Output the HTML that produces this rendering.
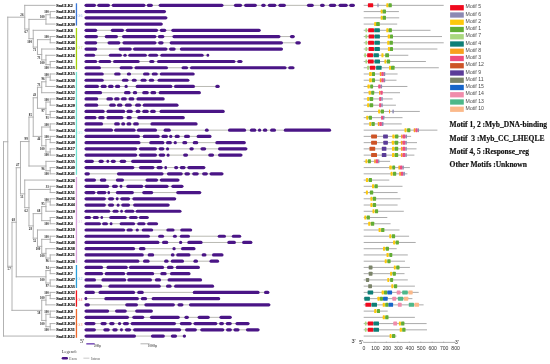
<!DOCTYPE html>
<html><head><meta charset="utf-8"><title>Gene structure and motifs</title>
<style>html,body{margin:0;padding:0;background:#fff;width:550px;height:364px;overflow:hidden}svg{display:block}.t{font-family:"Liberation Serif",serif;font-weight:bold}.s{font-family:"Liberation Sans",sans-serif}</style></head><body>
<svg width="550" height="364" viewBox="0 0 550 364">
<rect width="550" height="364" fill="#fff"/>
<g stroke="#a9a9a9" stroke-width="0.9" fill="none" stroke-linecap="square">
<line x1="3.51" y1="141.74" x2="3.51" y2="336.07"/>
<line x1="3.51" y1="141.74" x2="7.76" y2="141.74"/>
<line x1="7.76" y1="17.2" x2="7.76" y2="266.29"/>
<line x1="7.76" y1="17.2" x2="24.74" y2="17.2"/>
<line x1="24.74" y1="5.35" x2="24.74" y2="29.04"/>
<line x1="24.74" y1="5.35" x2="55" y2="5.35"/>
<line x1="24.74" y1="29.04" x2="28.98" y2="29.04"/>
<line x1="28.98" y1="19.39" x2="28.98" y2="38.7"/>
<line x1="28.98" y1="19.39" x2="45.96" y2="19.39"/>
<line x1="45.96" y1="14.71" x2="45.96" y2="24.07"/>
<line x1="45.96" y1="14.71" x2="50.21" y2="14.71"/>
<line x1="50.21" y1="11.59" x2="50.21" y2="17.83"/>
<line x1="50.21" y1="11.59" x2="55" y2="11.59"/>
<line x1="50.21" y1="17.83" x2="55" y2="17.83"/>
<line x1="45.96" y1="24.07" x2="55" y2="24.07"/>
<line x1="28.98" y1="38.7" x2="33.23" y2="38.7"/>
<line x1="33.23" y1="30.31" x2="33.23" y2="47.08"/>
<line x1="33.23" y1="30.31" x2="55" y2="30.31"/>
<line x1="33.23" y1="47.08" x2="37.47" y2="47.08"/>
<line x1="37.47" y1="39.67" x2="37.47" y2="54.49"/>
<line x1="37.47" y1="39.67" x2="50.21" y2="39.67"/>
<line x1="50.21" y1="36.55" x2="50.21" y2="42.79"/>
<line x1="50.21" y1="36.55" x2="55" y2="36.55"/>
<line x1="50.21" y1="42.79" x2="55" y2="42.79"/>
<line x1="37.47" y1="54.49" x2="41.72" y2="54.49"/>
<line x1="41.72" y1="49.03" x2="41.72" y2="59.95"/>
<line x1="41.72" y1="49.03" x2="55" y2="49.03"/>
<line x1="41.72" y1="59.95" x2="45.96" y2="59.95"/>
<line x1="45.96" y1="55.27" x2="45.96" y2="64.63"/>
<line x1="45.96" y1="55.27" x2="55" y2="55.27"/>
<line x1="45.96" y1="64.63" x2="50.21" y2="64.63"/>
<line x1="50.21" y1="61.51" x2="50.21" y2="67.75"/>
<line x1="50.21" y1="61.51" x2="55" y2="61.51"/>
<line x1="50.21" y1="67.75" x2="55" y2="67.75"/>
<line x1="7.76" y1="266.29" x2="12" y2="266.29"/>
<line x1="12" y1="222.25" x2="12" y2="310.33"/>
<line x1="12" y1="222.25" x2="16.25" y2="222.25"/>
<line x1="16.25" y1="167.71" x2="16.25" y2="276.79"/>
<line x1="16.25" y1="167.71" x2="20.49" y2="167.71"/>
<line x1="20.49" y1="141.56" x2="20.49" y2="193.87"/>
<line x1="20.49" y1="141.56" x2="28.98" y2="141.56"/>
<line x1="28.98" y1="117.08" x2="28.98" y2="166.03"/>
<line x1="28.98" y1="117.08" x2="33.23" y2="117.08"/>
<line x1="33.23" y1="97.78" x2="33.23" y2="136.39"/>
<line x1="33.23" y1="97.78" x2="37.47" y2="97.78"/>
<line x1="37.47" y1="87.25" x2="37.47" y2="108.31"/>
<line x1="37.47" y1="87.25" x2="41.72" y2="87.25"/>
<line x1="41.72" y1="81.79" x2="41.72" y2="92.71"/>
<line x1="41.72" y1="81.79" x2="45.96" y2="81.79"/>
<line x1="45.96" y1="77.11" x2="45.96" y2="86.47"/>
<line x1="45.96" y1="77.11" x2="50.21" y2="77.11"/>
<line x1="50.21" y1="73.99" x2="50.21" y2="80.23"/>
<line x1="50.21" y1="73.99" x2="55" y2="73.99"/>
<line x1="50.21" y1="80.23" x2="55" y2="80.23"/>
<line x1="45.96" y1="86.47" x2="55" y2="86.47"/>
<line x1="41.72" y1="92.71" x2="55" y2="92.71"/>
<line x1="37.47" y1="108.31" x2="45.96" y2="108.31"/>
<line x1="45.96" y1="102.07" x2="45.96" y2="114.55"/>
<line x1="45.96" y1="102.07" x2="50.21" y2="102.07"/>
<line x1="50.21" y1="98.95" x2="50.21" y2="105.19"/>
<line x1="50.21" y1="98.95" x2="55" y2="98.95"/>
<line x1="50.21" y1="105.19" x2="55" y2="105.19"/>
<line x1="45.96" y1="114.55" x2="50.21" y2="114.55"/>
<line x1="50.21" y1="111.43" x2="50.21" y2="117.67"/>
<line x1="50.21" y1="111.43" x2="55" y2="111.43"/>
<line x1="50.21" y1="117.67" x2="55" y2="117.67"/>
<line x1="33.23" y1="136.39" x2="41.72" y2="136.39"/>
<line x1="41.72" y1="127.03" x2="41.72" y2="145.75"/>
<line x1="41.72" y1="127.03" x2="50.21" y2="127.03"/>
<line x1="50.21" y1="123.91" x2="50.21" y2="130.15"/>
<line x1="50.21" y1="123.91" x2="55" y2="123.91"/>
<line x1="50.21" y1="130.15" x2="55" y2="130.15"/>
<line x1="41.72" y1="145.75" x2="45.96" y2="145.75"/>
<line x1="45.96" y1="139.51" x2="45.96" y2="151.99"/>
<line x1="45.96" y1="139.51" x2="50.21" y2="139.51"/>
<line x1="50.21" y1="136.39" x2="50.21" y2="142.63"/>
<line x1="50.21" y1="136.39" x2="55" y2="136.39"/>
<line x1="50.21" y1="142.63" x2="55" y2="142.63"/>
<line x1="45.96" y1="151.99" x2="50.21" y2="151.99"/>
<line x1="50.21" y1="148.87" x2="50.21" y2="155.11"/>
<line x1="50.21" y1="148.87" x2="55" y2="148.87"/>
<line x1="50.21" y1="155.11" x2="55" y2="155.11"/>
<line x1="28.98" y1="166.03" x2="45.96" y2="166.03"/>
<line x1="45.96" y1="161.35" x2="45.96" y2="170.71"/>
<line x1="45.96" y1="161.35" x2="55" y2="161.35"/>
<line x1="45.96" y1="170.71" x2="50.21" y2="170.71"/>
<line x1="50.21" y1="167.59" x2="50.21" y2="173.83"/>
<line x1="50.21" y1="167.59" x2="55" y2="167.59"/>
<line x1="50.21" y1="173.83" x2="55" y2="173.83"/>
<line x1="20.49" y1="193.87" x2="24.74" y2="193.87"/>
<line x1="24.74" y1="180.07" x2="24.74" y2="207.66"/>
<line x1="24.74" y1="180.07" x2="55" y2="180.07"/>
<line x1="24.74" y1="207.66" x2="28.98" y2="207.66"/>
<line x1="28.98" y1="189.43" x2="28.98" y2="225.9"/>
<line x1="28.98" y1="189.43" x2="50.21" y2="189.43"/>
<line x1="50.21" y1="186.31" x2="50.21" y2="192.55"/>
<line x1="50.21" y1="186.31" x2="55" y2="186.31"/>
<line x1="50.21" y1="192.55" x2="55" y2="192.55"/>
<line x1="28.98" y1="225.9" x2="33.23" y2="225.9"/>
<line x1="33.23" y1="213.61" x2="33.23" y2="238.18"/>
<line x1="33.23" y1="213.61" x2="41.72" y2="213.61"/>
<line x1="41.72" y1="206.59" x2="41.72" y2="220.63"/>
<line x1="41.72" y1="206.59" x2="45.96" y2="206.59"/>
<line x1="45.96" y1="201.91" x2="45.96" y2="211.27"/>
<line x1="45.96" y1="201.91" x2="50.21" y2="201.91"/>
<line x1="50.21" y1="198.79" x2="50.21" y2="205.03"/>
<line x1="50.21" y1="198.79" x2="55" y2="198.79"/>
<line x1="50.21" y1="205.03" x2="55" y2="205.03"/>
<line x1="45.96" y1="211.27" x2="55" y2="211.27"/>
<line x1="41.72" y1="220.63" x2="50.21" y2="220.63"/>
<line x1="50.21" y1="217.51" x2="50.21" y2="223.75"/>
<line x1="50.21" y1="217.51" x2="55" y2="217.51"/>
<line x1="50.21" y1="223.75" x2="55" y2="223.75"/>
<line x1="33.23" y1="238.18" x2="37.47" y2="238.18"/>
<line x1="37.47" y1="229.99" x2="37.47" y2="246.37"/>
<line x1="37.47" y1="229.99" x2="55" y2="229.99"/>
<line x1="37.47" y1="246.37" x2="41.72" y2="246.37"/>
<line x1="41.72" y1="239.35" x2="41.72" y2="253.39"/>
<line x1="41.72" y1="239.35" x2="50.21" y2="239.35"/>
<line x1="50.21" y1="236.23" x2="50.21" y2="242.47"/>
<line x1="50.21" y1="236.23" x2="55" y2="236.23"/>
<line x1="50.21" y1="242.47" x2="55" y2="242.47"/>
<line x1="41.72" y1="253.39" x2="45.96" y2="253.39"/>
<line x1="45.96" y1="248.71" x2="45.96" y2="258.07"/>
<line x1="45.96" y1="248.71" x2="55" y2="248.71"/>
<line x1="45.96" y1="258.07" x2="50.21" y2="258.07"/>
<line x1="50.21" y1="254.95" x2="50.21" y2="261.19"/>
<line x1="50.21" y1="254.95" x2="55" y2="254.95"/>
<line x1="50.21" y1="261.19" x2="55" y2="261.19"/>
<line x1="16.25" y1="276.79" x2="45.96" y2="276.79"/>
<line x1="45.96" y1="270.55" x2="45.96" y2="283.03"/>
<line x1="45.96" y1="270.55" x2="50.21" y2="270.55"/>
<line x1="50.21" y1="267.43" x2="50.21" y2="273.67"/>
<line x1="50.21" y1="267.43" x2="55" y2="267.43"/>
<line x1="50.21" y1="273.67" x2="55" y2="273.67"/>
<line x1="45.96" y1="283.03" x2="50.21" y2="283.03"/>
<line x1="50.21" y1="279.91" x2="50.21" y2="286.15"/>
<line x1="50.21" y1="279.91" x2="55" y2="279.91"/>
<line x1="50.21" y1="286.15" x2="55" y2="286.15"/>
<line x1="12" y1="310.33" x2="41.72" y2="310.33"/>
<line x1="41.72" y1="300.19" x2="41.72" y2="320.47"/>
<line x1="41.72" y1="300.19" x2="45.96" y2="300.19"/>
<line x1="45.96" y1="295.51" x2="45.96" y2="304.87"/>
<line x1="45.96" y1="295.51" x2="50.21" y2="295.51"/>
<line x1="50.21" y1="292.39" x2="50.21" y2="298.63"/>
<line x1="50.21" y1="292.39" x2="55" y2="292.39"/>
<line x1="50.21" y1="298.63" x2="55" y2="298.63"/>
<line x1="45.96" y1="304.87" x2="55" y2="304.87"/>
<line x1="41.72" y1="320.47" x2="45.96" y2="320.47"/>
<line x1="45.96" y1="314.23" x2="45.96" y2="326.71"/>
<line x1="45.96" y1="314.23" x2="50.21" y2="314.23"/>
<line x1="50.21" y1="311.11" x2="50.21" y2="317.35"/>
<line x1="50.21" y1="311.11" x2="55" y2="311.11"/>
<line x1="50.21" y1="317.35" x2="55" y2="317.35"/>
<line x1="45.96" y1="326.71" x2="50.21" y2="326.71"/>
<line x1="50.21" y1="323.59" x2="50.21" y2="329.83"/>
<line x1="50.21" y1="323.59" x2="55" y2="323.59"/>
<line x1="50.21" y1="329.83" x2="55" y2="329.83"/>
<line x1="3.51" y1="336.07" x2="55" y2="336.07"/>
</g>
<g class="t" font-size="3.1" fill="#222" text-anchor="end">
<text x="23.44" y="15.85">26</text>
<text x="27.68" y="33.14">67</text>
<text x="44.66" y="18.04">100</text>
<text x="48.91" y="13.36">100</text>
<text x="31.93" y="42.8">100</text>
<text x="36.17" y="51.18">71</text>
<text x="48.91" y="38.32">100</text>
<text x="40.42" y="58.59">73</text>
<text x="44.66" y="64.05">100</text>
<text x="48.91" y="68.73">100</text>
<text x="10.7" y="270.39">57</text>
<text x="14.95" y="220.9">68</text>
<text x="19.19" y="166.36">47</text>
<text x="27.68" y="140.21">99</text>
<text x="31.93" y="115.73">85</text>
<text x="36.17" y="96.43">43</text>
<text x="40.42" y="85.9">73</text>
<text x="44.66" y="80.44">96</text>
<text x="48.91" y="75.76">100</text>
<text x="44.66" y="112.41">97</text>
<text x="48.91" y="100.72">100</text>
<text x="48.91" y="118.65">91</text>
<text x="40.42" y="140.49">46</text>
<text x="48.91" y="125.68">100</text>
<text x="44.66" y="149.85">100</text>
<text x="48.91" y="138.16">100</text>
<text x="48.91" y="156.09">100</text>
<text x="44.66" y="170.13">96</text>
<text x="48.91" y="174.81">100</text>
<text x="23.44" y="197.97">51</text>
<text x="27.68" y="211.76">62</text>
<text x="48.91" y="188.08">33</text>
<text x="31.93" y="230">28</text>
<text x="40.42" y="212.26">68</text>
<text x="44.66" y="205.24">95</text>
<text x="48.91" y="200.56">100</text>
<text x="48.91" y="224.73">100</text>
<text x="36.17" y="242.28">52</text>
<text x="40.42" y="250.47">100</text>
<text x="48.91" y="238">100</text>
<text x="44.66" y="257.49">100</text>
<text x="48.91" y="262.17">96</text>
<text x="44.66" y="280.89">100</text>
<text x="48.91" y="269.2">94</text>
<text x="48.91" y="287.13">97</text>
<text x="40.42" y="314.43">58</text>
<text x="44.66" y="298.84">100</text>
<text x="48.91" y="294.16">100</text>
<text x="44.66" y="324.57">100</text>
<text x="48.91" y="312.88">100</text>
<text x="48.91" y="330.81">100</text>
</g>
<g class="t" font-size="4.05" fill="#000" stroke="#000" stroke-width="0.12">
<text x="56.2" y="6.8">SmGLK2</text>
<text x="56.2" y="13.04">SmGLK18</text>
<text x="56.2" y="19.28">SmGLK24</text>
<text x="56.2" y="25.52">SmGLK39</text>
<text x="56.2" y="31.76">SmGLK8</text>
<text x="56.2" y="38">SmGLK25</text>
<text x="56.2" y="44.24">SmGLK46</text>
<text x="56.2" y="50.48">SmGLK50</text>
<text x="56.2" y="56.72">SmGLK16</text>
<text x="56.2" y="62.96">SmGLK1</text>
<text x="56.2" y="69.2">SmGLK13</text>
<text x="56.2" y="75.44">SmGLK15</text>
<text x="56.2" y="81.68">SmGLK30</text>
<text x="56.2" y="87.92">SmGLK45</text>
<text x="56.2" y="94.16">SmGLK52</text>
<text x="56.2" y="100.4">SmGLK22</text>
<text x="56.2" y="106.64">SmGLK29</text>
<text x="56.2" y="112.88">SmGLK42</text>
<text x="56.2" y="119.12">SmGLK43</text>
<text x="56.2" y="125.36">SmGLK23</text>
<text x="56.2" y="131.6">SmGLK54</text>
<text x="56.2" y="137.84">SmGLK14</text>
<text x="56.2" y="144.08">SmGLK49</text>
<text x="56.2" y="150.32">SmGLK17</text>
<text x="56.2" y="156.56">SmGLK37</text>
<text x="56.2" y="162.8">SmGLK35</text>
<text x="56.2" y="169.04">SmGLK40</text>
<text x="56.2" y="175.28">SmGLK41</text>
<text x="56.2" y="181.52">SmGLK26</text>
<text x="56.2" y="187.76">SmGLK6</text>
<text x="56.2" y="194">SmGLK51</text>
<text x="56.2" y="200.24">SmGLK36</text>
<text x="56.2" y="206.48">SmGLK44</text>
<text x="56.2" y="212.72">SmGLK19</text>
<text x="56.2" y="218.96">SmGLK5</text>
<text x="56.2" y="225.2">SmGLK4</text>
<text x="56.2" y="231.44">SmGLK10</text>
<text x="56.2" y="237.68">SmGLK11</text>
<text x="56.2" y="243.92">SmGLK48</text>
<text x="56.2" y="250.16">SmGLK38</text>
<text x="56.2" y="256.4">SmGLK21</text>
<text x="56.2" y="262.64">SmGLK28</text>
<text x="56.2" y="268.88">SmGLK3</text>
<text x="56.2" y="275.12">SmGLK7</text>
<text x="56.2" y="281.36">SmGLK47</text>
<text x="56.2" y="287.6">SmGLK53</text>
<text x="56.2" y="293.84">SmGLK32</text>
<text x="56.2" y="300.08">SmGLK33</text>
<text x="56.2" y="306.32">SmGLK34</text>
<text x="56.2" y="312.56">SmGLK9</text>
<text x="56.2" y="318.8">SmGLK27</text>
<text x="56.2" y="325.04">SmGLK20</text>
<text x="56.2" y="331.28">SmGLK31</text>
<text x="56.2" y="337.52">SmGLK12</text>
</g>
<rect x="75.8" y="3.3" width="1.3" height="22.3" fill="#3b78d8"/>
<text class="s" x="77.6" y="16.7" font-size="3.6" fill="#9db9ea">G6</text>
<rect x="75.8" y="28" width="1.3" height="41.6" fill="#a6d20a"/>
<text class="s" x="77.6" y="49.3" font-size="3.6" fill="#d6ea9a">G7</text>
<rect x="75.8" y="71.9" width="1.3" height="102.9" fill="#6ee3d3"/>
<text class="s" x="77.6" y="134" font-size="3.6" fill="#b6eee6">G5</text>
<rect x="75.8" y="177" width="1.3" height="85.8" fill="#d9a2dc"/>
<text class="s" x="77.6" y="222.7" font-size="3.6" fill="#ecd2ee">G1</text>
<rect x="75.8" y="265" width="1.3" height="23" fill="#2aa0dc"/>
<text class="s" x="77.6" y="279.6" font-size="3.6" fill="#9fd3f0">G2</text>
<rect x="75.8" y="290.4" width="1.3" height="16.3" fill="#f5141a"/>
<text class="s" x="77.6" y="301.1" font-size="3.6" fill="#f27c82">G4</text>
<rect x="75.8" y="309" width="1.3" height="28.8" fill="#f0682a"/>
<text class="s" x="77.6" y="325.7" font-size="3.6" fill="#f4a47a">G3</text>
<g stroke="#b5b5af" stroke-width="0.95">
<line x1="84.5" y1="5.35" x2="354.9" y2="5.35"/>
<line x1="84.5" y1="11.59" x2="166" y2="11.59"/>
<line x1="84.5" y1="17.83" x2="167.4" y2="17.83"/>
<line x1="84.5" y1="24.07" x2="162.8" y2="24.07"/>
<line x1="84.5" y1="30.31" x2="260.7" y2="30.31"/>
<line x1="84.5" y1="36.55" x2="294.8" y2="36.55"/>
<line x1="84.5" y1="42.79" x2="300.8" y2="42.79"/>
<line x1="84.5" y1="49.03" x2="283" y2="49.03"/>
<line x1="84.5" y1="55.27" x2="209.2" y2="55.27"/>
<line x1="84.5" y1="61.51" x2="242.5" y2="61.51"/>
<line x1="84.5" y1="67.75" x2="294.5" y2="67.75"/>
<line x1="84.5" y1="73.99" x2="194.7" y2="73.99"/>
<line x1="84.5" y1="80.23" x2="189.4" y2="80.23"/>
<line x1="84.5" y1="86.47" x2="219.7" y2="86.47"/>
<line x1="84.5" y1="92.71" x2="200.9" y2="92.71"/>
<line x1="84.5" y1="98.95" x2="164.7" y2="98.95"/>
<line x1="84.5" y1="105.19" x2="178.5" y2="105.19"/>
<line x1="84.5" y1="111.43" x2="224.7" y2="111.43"/>
<line x1="84.5" y1="117.67" x2="184.8" y2="117.67"/>
<line x1="84.5" y1="123.91" x2="197.6" y2="123.91"/>
<line x1="84.5" y1="130.15" x2="331.1" y2="130.15"/>
<line x1="84.5" y1="136.39" x2="211.5" y2="136.39"/>
<line x1="84.5" y1="142.63" x2="245.8" y2="142.63"/>
<line x1="84.5" y1="148.87" x2="247.4" y2="148.87"/>
<line x1="84.5" y1="155.11" x2="242.5" y2="155.11"/>
<line x1="84.5" y1="161.35" x2="162" y2="161.35"/>
<line x1="84.5" y1="167.59" x2="205.4" y2="167.59"/>
<line x1="84.5" y1="173.83" x2="223.5" y2="173.83"/>
<line x1="84.5" y1="180.07" x2="179.5" y2="180.07"/>
<line x1="84.5" y1="186.31" x2="183.5" y2="186.31"/>
<line x1="84.5" y1="192.55" x2="201.3" y2="192.55"/>
<line x1="84.5" y1="198.79" x2="176.2" y2="198.79"/>
<line x1="84.5" y1="205.03" x2="169.7" y2="205.03"/>
<line x1="84.5" y1="211.27" x2="181.5" y2="211.27"/>
<line x1="84.5" y1="217.51" x2="148.8" y2="217.51"/>
<line x1="84.5" y1="223.75" x2="158.1" y2="223.75"/>
<line x1="84.5" y1="229.99" x2="192.2" y2="229.99"/>
<line x1="84.5" y1="236.23" x2="241.2" y2="236.23"/>
<line x1="84.5" y1="242.47" x2="252.4" y2="242.47"/>
<line x1="84.5" y1="248.71" x2="195.5" y2="248.71"/>
<line x1="84.5" y1="254.95" x2="223.5" y2="254.95"/>
<line x1="84.5" y1="261.19" x2="219.1" y2="261.19"/>
<line x1="84.5" y1="267.43" x2="199.9" y2="267.43"/>
<line x1="84.5" y1="273.67" x2="190.5" y2="273.67"/>
<line x1="84.5" y1="279.91" x2="202.1" y2="279.91"/>
<line x1="84.5" y1="286.15" x2="214.1" y2="286.15"/>
<line x1="84.5" y1="292.39" x2="269.4" y2="292.39"/>
<line x1="84.5" y1="298.63" x2="220.2" y2="298.63"/>
<line x1="84.5" y1="304.87" x2="270.4" y2="304.87"/>
<line x1="84.5" y1="311.11" x2="152.9" y2="311.11"/>
<line x1="84.5" y1="317.35" x2="231.8" y2="317.35"/>
<line x1="84.5" y1="323.59" x2="249.6" y2="323.59"/>
<line x1="84.5" y1="329.83" x2="259.6" y2="329.83"/>
<line x1="84.5" y1="336.07" x2="186" y2="336.07"/>
</g>
<g fill="#4a1586">
<rect x="84.5" y="3.75" width="11.5" height="3.2" rx="1.6"/>
<rect x="97.2" y="3.75" width="12.8" height="3.2" rx="1.6"/>
<rect x="111.7" y="3.75" width="33.8" height="3.2" rx="1.6"/>
<rect x="146.8" y="3.75" width="6.1" height="3.2" rx="1.6"/>
<rect x="158.6" y="3.75" width="64.9" height="3.2" rx="1.6"/>
<rect x="233.9" y="3.75" width="8.2" height="3.2" rx="1.6"/>
<rect x="244.1" y="3.75" width="12.8" height="3.2" rx="1.6"/>
<rect x="261.2" y="3.75" width="4.5" height="3.2" rx="1.6"/>
<rect x="267.8" y="3.75" width="8.6" height="3.2" rx="1.6"/>
<rect x="278.4" y="3.75" width="7.5" height="3.2" rx="1.6"/>
<rect x="306.9" y="3.75" width="6.9" height="3.2" rx="1.6"/>
<rect x="320" y="3.75" width="4.7" height="3.2" rx="1.6"/>
<rect x="328.9" y="3.75" width="7.3" height="3.2" rx="1.6"/>
<rect x="338.5" y="3.75" width="9.3" height="3.2" rx="1.6"/>
<rect x="349.2" y="3.75" width="5.7" height="3.2" rx="1.6"/>
<rect x="84.5" y="9.99" width="81.5" height="3.2" rx="1.6"/>
<rect x="84.5" y="16.23" width="82.9" height="3.2" rx="1.6"/>
<rect x="84.5" y="22.47" width="78.3" height="3.2" rx="1.6"/>
<rect x="84.5" y="28.71" width="12.7" height="3.2" rx="1.6"/>
<rect x="110.8" y="28.71" width="13.2" height="3.2" rx="1.6"/>
<rect x="125.7" y="28.71" width="32.4" height="3.2" rx="1.6"/>
<rect x="159.8" y="28.71" width="6.5" height="3.2" rx="1.6"/>
<rect x="171.3" y="28.71" width="89.4" height="3.2" rx="1.6"/>
<rect x="84.5" y="34.95" width="13.5" height="3.2" rx="1.6"/>
<rect x="104.7" y="34.95" width="13.3" height="3.2" rx="1.6"/>
<rect x="122" y="34.95" width="34.5" height="3.2" rx="1.6"/>
<rect x="157.8" y="34.95" width="6.6" height="3.2" rx="1.6"/>
<rect x="172.4" y="34.95" width="108.1" height="3.2" rx="1.6"/>
<rect x="289.9" y="34.95" width="4.9" height="3.2" rx="1.6"/>
<rect x="84.5" y="41.19" width="12.7" height="3.2" rx="1.6"/>
<rect x="107.5" y="41.19" width="12.9" height="3.2" rx="1.6"/>
<rect x="122.4" y="41.19" width="34.1" height="3.2" rx="1.6"/>
<rect x="158.1" y="41.19" width="5.5" height="3.2" rx="1.6"/>
<rect x="169.6" y="41.19" width="113.4" height="3.2" rx="1.6"/>
<rect x="295.3" y="41.19" width="5.5" height="3.2" rx="1.6"/>
<rect x="84.5" y="47.43" width="12.7" height="3.2" rx="1.6"/>
<rect x="118.6" y="47.43" width="13.2" height="3.2" rx="1.6"/>
<rect x="133" y="47.43" width="34.5" height="3.2" rx="1.6"/>
<rect x="169" y="47.43" width="6.7" height="3.2" rx="1.6"/>
<rect x="179.8" y="47.43" width="103.2" height="3.2" rx="1.6"/>
<rect x="84.5" y="53.67" width="10.7" height="3.2" rx="1.6"/>
<rect x="108.8" y="53.67" width="13.1" height="3.2" rx="1.6"/>
<rect x="123.3" y="53.67" width="3.5" height="3.2" rx="1.6"/>
<rect x="128.2" y="53.67" width="18.7" height="3.2" rx="1.6"/>
<rect x="148.3" y="53.67" width="9.8" height="3.2" rx="1.6"/>
<rect x="160.3" y="53.67" width="43.4" height="3.2" rx="1.6"/>
<rect x="206.5" y="53.67" width="2.7" height="3.2" rx="1.35"/>
<rect x="84.5" y="59.91" width="12.7" height="3.2" rx="1.6"/>
<rect x="98.5" y="59.91" width="12.8" height="3.2" rx="1.6"/>
<rect x="113" y="59.91" width="26.7" height="3.2" rx="1.6"/>
<rect x="149.2" y="59.91" width="5.3" height="3.2" rx="1.6"/>
<rect x="157" y="59.91" width="78.5" height="3.2" rx="1.6"/>
<rect x="237.2" y="59.91" width="5.3" height="3.2" rx="1.6"/>
<rect x="84.5" y="66.15" width="16.5" height="3.2" rx="1.6"/>
<rect x="119.6" y="66.15" width="13.2" height="3.2" rx="1.6"/>
<rect x="134.4" y="66.15" width="33.6" height="3.2" rx="1.6"/>
<rect x="181.5" y="66.15" width="6.6" height="3.2" rx="1.6"/>
<rect x="190" y="66.15" width="96.6" height="3.2" rx="1.6"/>
<rect x="288.2" y="66.15" width="6.3" height="3.2" rx="1.6"/>
<rect x="84.5" y="72.39" width="19.3" height="3.2" rx="1.6"/>
<rect x="114.1" y="72.39" width="6.6" height="3.2" rx="1.6"/>
<rect x="126.8" y="72.39" width="4.3" height="3.2" rx="1.6"/>
<rect x="143" y="72.39" width="6.6" height="3.2" rx="1.6"/>
<rect x="151.7" y="72.39" width="6.1" height="3.2" rx="1.6"/>
<rect x="159.8" y="72.39" width="34.9" height="3.2" rx="1.6"/>
<rect x="84.5" y="78.63" width="19.3" height="3.2" rx="1.6"/>
<rect x="121.9" y="78.63" width="6.6" height="3.2" rx="1.6"/>
<rect x="131.8" y="78.63" width="4.9" height="3.2" rx="1.6"/>
<rect x="140.5" y="78.63" width="6.1" height="3.2" rx="1.6"/>
<rect x="148.8" y="78.63" width="5.4" height="3.2" rx="1.6"/>
<rect x="157.5" y="78.63" width="31.9" height="3.2" rx="1.6"/>
<rect x="84.5" y="84.87" width="14.5" height="3.2" rx="1.6"/>
<rect x="100.6" y="84.87" width="6.1" height="3.2" rx="1.6"/>
<rect x="108" y="84.87" width="5.6" height="3.2" rx="1.6"/>
<rect x="115" y="84.87" width="5.2" height="3.2" rx="1.6"/>
<rect x="124.5" y="84.87" width="3.3" height="3.2" rx="1.6"/>
<rect x="135.6" y="84.87" width="36.8" height="3.2" rx="1.6"/>
<rect x="174" y="84.87" width="21" height="3.2" rx="1.6"/>
<rect x="215.3" y="84.87" width="4.4" height="3.2" rx="1.6"/>
<rect x="84.5" y="91.11" width="17.6" height="3.2" rx="1.6"/>
<rect x="124" y="91.11" width="6.6" height="3.2" rx="1.6"/>
<rect x="132.8" y="91.11" width="4.4" height="3.2" rx="1.6"/>
<rect x="142.2" y="91.11" width="6.6" height="3.2" rx="1.6"/>
<rect x="150.4" y="91.11" width="5.8" height="3.2" rx="1.6"/>
<rect x="158.6" y="91.11" width="42.3" height="3.2" rx="1.6"/>
<rect x="84.5" y="97.35" width="13.7" height="3.2" rx="1.6"/>
<rect x="106.4" y="97.35" width="6.6" height="3.2" rx="1.6"/>
<rect x="114.1" y="97.35" width="5.5" height="3.2" rx="1.6"/>
<rect x="121" y="97.35" width="5.8" height="3.2" rx="1.6"/>
<rect x="128.5" y="97.35" width="5.9" height="3.2" rx="1.6"/>
<rect x="136.4" y="97.35" width="28.3" height="3.2" rx="1.6"/>
<rect x="84.5" y="103.59" width="13.7" height="3.2" rx="1.6"/>
<rect x="109.2" y="103.59" width="6.6" height="3.2" rx="1.6"/>
<rect x="117" y="103.59" width="5.4" height="3.2" rx="1.6"/>
<rect x="124.9" y="103.59" width="6.9" height="3.2" rx="1.6"/>
<rect x="135.1" y="103.59" width="5.9" height="3.2" rx="1.6"/>
<rect x="142.7" y="103.59" width="35.8" height="3.2" rx="1.6"/>
<rect x="84.5" y="109.83" width="20.2" height="3.2" rx="1.6"/>
<rect x="106.4" y="109.83" width="18.8" height="3.2" rx="1.6"/>
<rect x="126.5" y="109.83" width="6.3" height="3.2" rx="1.6"/>
<rect x="135.6" y="109.83" width="4.9" height="3.2" rx="1.6"/>
<rect x="142.2" y="109.83" width="6.6" height="3.2" rx="1.6"/>
<rect x="150.1" y="109.83" width="5.7" height="3.2" rx="1.6"/>
<rect x="159.5" y="109.83" width="65.2" height="3.2" rx="1.6"/>
<rect x="84.5" y="116.07" width="12" height="3.2" rx="1.6"/>
<rect x="98.2" y="116.07" width="6.5" height="3.2" rx="1.6"/>
<rect x="106.4" y="116.07" width="17.1" height="3.2" rx="1.6"/>
<rect x="126.5" y="116.07" width="5.3" height="3.2" rx="1.6"/>
<rect x="137.2" y="116.07" width="47.6" height="3.2" rx="1.6"/>
<rect x="84.5" y="122.31" width="18.6" height="3.2" rx="1.6"/>
<rect x="114.1" y="122.31" width="5.8" height="3.2" rx="1.6"/>
<rect x="121.2" y="122.31" width="4" height="3.2" rx="1.6"/>
<rect x="126.5" y="122.31" width="4.9" height="3.2" rx="1.6"/>
<rect x="133.1" y="122.31" width="5.8" height="3.2" rx="1.6"/>
<rect x="150.4" y="122.31" width="47.2" height="3.2" rx="1.6"/>
<rect x="84.5" y="128.55" width="28.5" height="3.2" rx="1.6"/>
<rect x="114.1" y="128.55" width="21.5" height="3.2" rx="1.6"/>
<rect x="136.9" y="128.55" width="20.1" height="3.2" rx="1.6"/>
<rect x="163.6" y="128.55" width="7.2" height="3.2" rx="1.6"/>
<rect x="204.9" y="128.55" width="3.8" height="3.2" rx="1.6"/>
<rect x="228" y="128.55" width="18.1" height="3.2" rx="1.6"/>
<rect x="249.9" y="128.55" width="6.4" height="3.2" rx="1.6"/>
<rect x="257.9" y="128.55" width="3.3" height="3.2" rx="1.6"/>
<rect x="262.9" y="128.55" width="4.4" height="3.2" rx="1.6"/>
<rect x="270.1" y="128.55" width="5.9" height="3.2" rx="1.6"/>
<rect x="283.8" y="128.55" width="47.3" height="3.2" rx="1.6"/>
<rect x="84.5" y="134.79" width="55.5" height="3.2" rx="1.6"/>
<rect x="142.7" y="134.79" width="17.1" height="3.2" rx="1.6"/>
<rect x="161.4" y="134.79" width="6.6" height="3.2" rx="1.6"/>
<rect x="169.1" y="134.79" width="3.3" height="3.2" rx="1.6"/>
<rect x="174.6" y="134.79" width="5.2" height="3.2" rx="1.6"/>
<rect x="184" y="134.79" width="6" height="3.2" rx="1.6"/>
<rect x="196.6" y="134.79" width="14.9" height="3.2" rx="1.6"/>
<rect x="84.5" y="141.03" width="56" height="3.2" rx="1.6"/>
<rect x="149.2" y="141.03" width="15.2" height="3.2" rx="1.6"/>
<rect x="166" y="141.03" width="5.9" height="3.2" rx="1.6"/>
<rect x="173.6" y="141.03" width="3.3" height="3.2" rx="1.6"/>
<rect x="182.3" y="141.03" width="5" height="3.2" rx="1.6"/>
<rect x="192.7" y="141.03" width="5.6" height="3.2" rx="1.6"/>
<rect x="215.3" y="141.03" width="30.5" height="3.2" rx="1.6"/>
<rect x="84.5" y="147.27" width="52.7" height="3.2" rx="1.6"/>
<rect x="138.9" y="147.27" width="18.1" height="3.2" rx="1.6"/>
<rect x="158.6" y="147.27" width="5.8" height="3.2" rx="1.6"/>
<rect x="166" y="147.27" width="3.1" height="3.2" rx="1.55"/>
<rect x="189.4" y="147.27" width="4.4" height="3.2" rx="1.6"/>
<rect x="200.4" y="147.27" width="5.8" height="3.2" rx="1.6"/>
<rect x="218" y="147.27" width="29.4" height="3.2" rx="1.6"/>
<rect x="84.5" y="153.51" width="52.7" height="3.2" rx="1.6"/>
<rect x="138.9" y="153.51" width="18.1" height="3.2" rx="1.6"/>
<rect x="158.6" y="153.51" width="6.6" height="3.2" rx="1.6"/>
<rect x="166.6" y="153.51" width="3" height="3.2" rx="1.5"/>
<rect x="183.1" y="153.51" width="5" height="3.2" rx="1.6"/>
<rect x="208.2" y="153.51" width="5.9" height="3.2" rx="1.6"/>
<rect x="218" y="153.51" width="24.5" height="3.2" rx="1.6"/>
<rect x="84.5" y="159.75" width="9.4" height="3.2" rx="1.6"/>
<rect x="98.5" y="159.75" width="5.3" height="3.2" rx="1.6"/>
<rect x="106.4" y="159.75" width="2.8" height="3.2" rx="1.4"/>
<rect x="110.8" y="159.75" width="5" height="3.2" rx="1.6"/>
<rect x="119.6" y="159.75" width="6.6" height="3.2" rx="1.6"/>
<rect x="131.1" y="159.75" width="30.9" height="3.2" rx="1.6"/>
<rect x="84.5" y="165.99" width="49.9" height="3.2" rx="1.6"/>
<rect x="138.9" y="165.99" width="15.6" height="3.2" rx="1.6"/>
<rect x="156.5" y="165.99" width="6.3" height="3.2" rx="1.6"/>
<rect x="164.4" y="165.99" width="2.6" height="3.2" rx="1.3"/>
<rect x="174.1" y="165.99" width="4.1" height="3.2" rx="1.6"/>
<rect x="179.8" y="165.99" width="5.8" height="3.2" rx="1.6"/>
<rect x="187.3" y="165.99" width="18.1" height="3.2" rx="1.6"/>
<rect x="84.5" y="172.23" width="5.4" height="3.2" rx="1.6"/>
<rect x="116.9" y="172.23" width="46.7" height="3.2" rx="1.6"/>
<rect x="166.9" y="172.23" width="15.9" height="3.2" rx="1.6"/>
<rect x="184.4" y="172.23" width="5.6" height="3.2" rx="1.6"/>
<rect x="192.2" y="172.23" width="6.6" height="3.2" rx="1.6"/>
<rect x="202.1" y="172.23" width="5.8" height="3.2" rx="1.6"/>
<rect x="209.5" y="172.23" width="14" height="3.2" rx="1.6"/>
<rect x="84.5" y="178.47" width="11.5" height="3.2" rx="1.6"/>
<rect x="99.8" y="178.47" width="6.6" height="3.2" rx="1.6"/>
<rect x="115.8" y="178.47" width="8.2" height="3.2" rx="1.6"/>
<rect x="145.5" y="178.47" width="12.6" height="3.2" rx="1.6"/>
<rect x="159.8" y="178.47" width="19.7" height="3.2" rx="1.6"/>
<rect x="84.5" y="184.71" width="24.7" height="3.2" rx="1.6"/>
<rect x="112" y="184.71" width="5.9" height="3.2" rx="1.6"/>
<rect x="119.6" y="184.71" width="2.8" height="3.2" rx="1.4"/>
<rect x="126.2" y="184.71" width="17.1" height="3.2" rx="1.6"/>
<rect x="144.6" y="184.71" width="24" height="3.2" rx="1.6"/>
<rect x="171.3" y="184.71" width="12.2" height="3.2" rx="1.6"/>
<rect x="84.5" y="190.95" width="11" height="3.2" rx="1.6"/>
<rect x="96.8" y="190.95" width="9.6" height="3.2" rx="1.6"/>
<rect x="107.5" y="190.95" width="2.5" height="3.2" rx="1.25"/>
<rect x="115.8" y="190.95" width="18.1" height="3.2" rx="1.6"/>
<rect x="142.2" y="190.95" width="11" height="3.2" rx="1.6"/>
<rect x="176.2" y="190.95" width="25.1" height="3.2" rx="1.6"/>
<rect x="84.5" y="197.19" width="21.4" height="3.2" rx="1.6"/>
<rect x="108" y="197.19" width="6.1" height="3.2" rx="1.6"/>
<rect x="115.8" y="197.19" width="2.8" height="3.2" rx="1.4"/>
<rect x="120.2" y="197.19" width="9.9" height="3.2" rx="1.6"/>
<rect x="132.3" y="197.19" width="43.9" height="3.2" rx="1.6"/>
<rect x="84.5" y="203.43" width="21.4" height="3.2" rx="1.6"/>
<rect x="108" y="203.43" width="6.1" height="3.2" rx="1.6"/>
<rect x="116.6" y="203.43" width="3" height="3.2" rx="1.5"/>
<rect x="121.2" y="203.43" width="8.9" height="3.2" rx="1.6"/>
<rect x="133.1" y="203.43" width="36.6" height="3.2" rx="1.6"/>
<rect x="84.5" y="209.67" width="25.8" height="3.2" rx="1.6"/>
<rect x="112.5" y="209.67" width="6.1" height="3.2" rx="1.6"/>
<rect x="120.2" y="209.67" width="2.7" height="3.2" rx="1.35"/>
<rect x="124.5" y="209.67" width="9.9" height="3.2" rx="1.6"/>
<rect x="135.6" y="209.67" width="45.9" height="3.2" rx="1.6"/>
<rect x="84.5" y="215.91" width="6.6" height="3.2" rx="1.6"/>
<rect x="92.7" y="215.91" width="6.1" height="3.2" rx="1.6"/>
<rect x="100.5" y="215.91" width="2.6" height="3.2" rx="1.3"/>
<rect x="109.2" y="215.91" width="17.6" height="3.2" rx="1.6"/>
<rect x="129" y="215.91" width="8.7" height="3.2" rx="1.6"/>
<rect x="138.9" y="215.91" width="9.9" height="3.2" rx="1.6"/>
<rect x="84.5" y="222.15" width="16.5" height="3.2" rx="1.6"/>
<rect x="102.1" y="222.15" width="5.9" height="3.2" rx="1.6"/>
<rect x="109.7" y="222.15" width="2.8" height="3.2" rx="1.4"/>
<rect x="119.6" y="222.15" width="15.5" height="3.2" rx="1.6"/>
<rect x="137.2" y="222.15" width="8.3" height="3.2" rx="1.6"/>
<rect x="147.1" y="222.15" width="11" height="3.2" rx="1.6"/>
<rect x="84.5" y="228.39" width="40.7" height="3.2" rx="1.6"/>
<rect x="126.5" y="228.39" width="6.3" height="3.2" rx="1.6"/>
<rect x="135.6" y="228.39" width="3.3" height="3.2" rx="1.6"/>
<rect x="141.7" y="228.39" width="11.5" height="3.2" rx="1.6"/>
<rect x="166.3" y="228.39" width="8.3" height="3.2" rx="1.6"/>
<rect x="180.2" y="228.39" width="12" height="3.2" rx="1.6"/>
<rect x="84.5" y="234.63" width="65.4" height="3.2" rx="1.6"/>
<rect x="158.1" y="234.63" width="6" height="3.2" rx="1.6"/>
<rect x="172.9" y="234.63" width="4" height="3.2" rx="1.6"/>
<rect x="179.8" y="234.63" width="10.2" height="3.2" rx="1.6"/>
<rect x="217.7" y="234.63" width="8.3" height="3.2" rx="1.6"/>
<rect x="231.8" y="234.63" width="9.4" height="3.2" rx="1.6"/>
<rect x="84.5" y="240.87" width="75" height="3.2" rx="1.6"/>
<rect x="162" y="240.87" width="6.3" height="3.2" rx="1.6"/>
<rect x="179" y="240.87" width="3.3" height="3.2" rx="1.6"/>
<rect x="187.3" y="240.87" width="15.3" height="3.2" rx="1.6"/>
<rect x="227.3" y="240.87" width="8.6" height="3.2" rx="1.6"/>
<rect x="242.1" y="240.87" width="10.3" height="3.2" rx="1.6"/>
<rect x="84.5" y="247.11" width="50.6" height="3.2" rx="1.6"/>
<rect x="138.9" y="247.11" width="6.6" height="3.2" rx="1.6"/>
<rect x="172.4" y="247.11" width="3.3" height="3.2" rx="1.6"/>
<rect x="181" y="247.11" width="14.5" height="3.2" rx="1.6"/>
<rect x="84.5" y="253.35" width="59.3" height="3.2" rx="1.6"/>
<rect x="147.6" y="253.35" width="6.6" height="3.2" rx="1.6"/>
<rect x="170.8" y="253.35" width="3.8" height="3.2" rx="1.6"/>
<rect x="176.2" y="253.35" width="14.3" height="3.2" rx="1.6"/>
<rect x="201.6" y="253.35" width="4.9" height="3.2" rx="1.6"/>
<rect x="212" y="253.35" width="11.5" height="3.2" rx="1.6"/>
<rect x="84.5" y="259.59" width="54.9" height="3.2" rx="1.6"/>
<rect x="143" y="259.59" width="6.6" height="3.2" rx="1.6"/>
<rect x="164.1" y="259.59" width="4.5" height="3.2" rx="1.6"/>
<rect x="170.8" y="259.59" width="13.2" height="3.2" rx="1.6"/>
<rect x="193.4" y="259.59" width="4.6" height="3.2" rx="1.6"/>
<rect x="209.5" y="259.59" width="9.6" height="3.2" rx="1.6"/>
<rect x="84.5" y="265.83" width="18.6" height="3.2" rx="1.6"/>
<rect x="106.4" y="265.83" width="21.4" height="3.2" rx="1.6"/>
<rect x="129" y="265.83" width="35.1" height="3.2" rx="1.6"/>
<rect x="166.9" y="265.83" width="6.7" height="3.2" rx="1.6"/>
<rect x="175.7" y="265.83" width="24.2" height="3.2" rx="1.6"/>
<rect x="84.5" y="272.07" width="18.6" height="3.2" rx="1.6"/>
<rect x="104.7" y="272.07" width="20.5" height="3.2" rx="1.6"/>
<rect x="126.5" y="272.07" width="27.7" height="3.2" rx="1.6"/>
<rect x="160.3" y="272.07" width="6.4" height="3.2" rx="1.6"/>
<rect x="170" y="272.07" width="20.5" height="3.2" rx="1.6"/>
<rect x="84.5" y="278.31" width="11.5" height="3.2" rx="1.6"/>
<rect x="101.4" y="278.31" width="24.8" height="3.2" rx="1.6"/>
<rect x="127.3" y="278.31" width="24.7" height="3.2" rx="1.6"/>
<rect x="154.9" y="278.31" width="6.2" height="3.2" rx="1.6"/>
<rect x="167.5" y="278.31" width="34.6" height="3.2" rx="1.6"/>
<rect x="84.5" y="284.55" width="17.6" height="3.2" rx="1.6"/>
<rect x="108.4" y="284.55" width="52.4" height="3.2" rx="1.6"/>
<rect x="166" y="284.55" width="5.6" height="3.2" rx="1.6"/>
<rect x="174.1" y="284.55" width="40" height="3.2" rx="1.6"/>
<rect x="84.5" y="290.79" width="10.4" height="3.2" rx="1.6"/>
<rect x="98.5" y="290.79" width="36.6" height="3.2" rx="1.6"/>
<rect x="137.2" y="290.79" width="6.6" height="3.2" rx="1.6"/>
<rect x="192.7" y="290.79" width="66.9" height="3.2" rx="1.6"/>
<rect x="264" y="290.79" width="5.4" height="3.2" rx="1.6"/>
<rect x="84.5" y="297.03" width="2.8" height="3.2" rx="1.4"/>
<rect x="104.3" y="297.03" width="34.6" height="3.2" rx="1.6"/>
<rect x="140.8" y="297.03" width="6.3" height="3.2" rx="1.6"/>
<rect x="151.6" y="297.03" width="68.6" height="3.2" rx="1.6"/>
<rect x="84.5" y="303.27" width="5.4" height="3.2" rx="1.6"/>
<rect x="125.2" y="303.27" width="12.8" height="3.2" rx="1.6"/>
<rect x="144.3" y="303.27" width="30.6" height="3.2" rx="1.6"/>
<rect x="177.4" y="303.27" width="6.1" height="3.2" rx="1.6"/>
<rect x="188.9" y="303.27" width="81.5" height="3.2" rx="1.6"/>
<rect x="84.5" y="309.51" width="24.7" height="3.2" rx="1.6"/>
<rect x="115" y="309.51" width="11.8" height="3.2" rx="1.6"/>
<rect x="135.1" y="309.51" width="17.8" height="3.2" rx="1.6"/>
<rect x="84.5" y="315.75" width="44.5" height="3.2" rx="1.6"/>
<rect x="132.3" y="315.75" width="12" height="3.2" rx="1.6"/>
<rect x="149.9" y="315.75" width="29.9" height="3.2" rx="1.6"/>
<rect x="184.4" y="315.75" width="4.5" height="3.2" rx="1.6"/>
<rect x="197.6" y="315.75" width="12.2" height="3.2" rx="1.6"/>
<rect x="219.4" y="315.75" width="12.4" height="3.2" rx="1.6"/>
<rect x="84.5" y="321.99" width="11" height="3.2" rx="1.6"/>
<rect x="100.5" y="321.99" width="6.2" height="3.2" rx="1.6"/>
<rect x="109.2" y="321.99" width="5.4" height="3.2" rx="1.6"/>
<rect x="117.9" y="321.99" width="3.3" height="3.2" rx="1.6"/>
<rect x="122.9" y="321.99" width="6.1" height="3.2" rx="1.6"/>
<rect x="130.6" y="321.99" width="45.4" height="3.2" rx="1.6"/>
<rect x="179.8" y="321.99" width="12" height="3.2" rx="1.6"/>
<rect x="193.4" y="321.99" width="24" height="3.2" rx="1.6"/>
<rect x="219.1" y="321.99" width="4.9" height="3.2" rx="1.6"/>
<rect x="225.7" y="321.99" width="6.1" height="3.2" rx="1.6"/>
<rect x="235.4" y="321.99" width="14.2" height="3.2" rx="1.6"/>
<rect x="84.5" y="328.23" width="11.4" height="3.2" rx="1.6"/>
<rect x="103.3" y="328.23" width="6.5" height="3.2" rx="1.6"/>
<rect x="112.3" y="328.23" width="5.4" height="3.2" rx="1.6"/>
<rect x="120" y="328.23" width="2.9" height="3.2" rx="1.45"/>
<rect x="124.9" y="328.23" width="6.2" height="3.2" rx="1.6"/>
<rect x="133.1" y="328.23" width="48.1" height="3.2" rx="1.6"/>
<rect x="185" y="328.23" width="11.9" height="3.2" rx="1.6"/>
<rect x="200.2" y="328.23" width="24.1" height="3.2" rx="1.6"/>
<rect x="226" y="328.23" width="5.9" height="3.2" rx="1.6"/>
<rect x="233.4" y="328.23" width="6.2" height="3.2" rx="1.6"/>
<rect x="245.9" y="328.23" width="13.7" height="3.2" rx="1.6"/>
<rect x="84.5" y="334.47" width="51.5" height="3.2" rx="1.6"/>
<rect x="150.9" y="334.47" width="14" height="3.2" rx="1.6"/>
<rect x="170.8" y="334.47" width="6.3" height="3.2" rx="1.6"/>
<rect x="182.7" y="334.47" width="3.3" height="3.2" rx="1.6"/>
</g>
<text x="79.9" y="342.7" font-size="6" fill="#444" stroke="#444" stroke-width="0.08" font-family="Liberation Serif, serif">5'</text>
<text class="s" x="351.4" y="342.5" font-size="5.5" fill="#222">3'</text>
<rect x="86.3" y="343.2" width="8.4" height="1.3" fill="#6535ad"/>
<text class="t" x="93.9" y="347.1" font-size="3.0" fill="#666" textLength="7.2" lengthAdjust="spacingAndGlyphs">200bp</text>
<rect x="140.5" y="343.3" width="9.1" height="1" fill="#b4b4b4"/>
<text class="t" x="148" y="347.2" font-size="3.0" fill="#666" textLength="9.2" lengthAdjust="spacingAndGlyphs">1000bp</text>
<text x="61.7" y="353.0" font-size="4.6" fill="#3a3a3a" font-family="Liberation Serif, serif">Legend:</text>
<rect x="61.7" y="356.9" width="6.3" height="2.6" rx="1.3" fill="#4a1586"/>
<text x="69.3" y="359.5" font-size="3.6" fill="#555" font-family="Liberation Serif, serif">Exon</text>
<rect x="83.4" y="357.7" width="6" height="0.9" fill="#c4c4c4"/>
<text x="91.2" y="359.5" font-size="3.6" fill="#555" font-family="Liberation Serif, serif">Intron</text>
<g stroke="#a6a6a6" stroke-width="0.95">
<line x1="363.7" y1="5.35" x2="443.7" y2="5.35"/>
<line x1="363.7" y1="11.59" x2="398.9" y2="11.59"/>
<line x1="363.7" y1="17.83" x2="399.2" y2="17.83"/>
<line x1="363.7" y1="24.07" x2="397.2" y2="24.07"/>
<line x1="363.7" y1="30.31" x2="430.5" y2="30.31"/>
<line x1="363.7" y1="36.55" x2="442" y2="36.55"/>
<line x1="363.7" y1="42.79" x2="443.7" y2="42.79"/>
<line x1="363.7" y1="49.03" x2="437.4" y2="49.03"/>
<line x1="363.7" y1="55.27" x2="408.3" y2="55.27"/>
<line x1="363.7" y1="61.51" x2="425.9" y2="61.51"/>
<line x1="363.7" y1="67.75" x2="438.8" y2="67.75"/>
<line x1="363.7" y1="73.99" x2="397.6" y2="73.99"/>
<line x1="363.7" y1="80.23" x2="396.5" y2="80.23"/>
<line x1="363.7" y1="86.47" x2="407.4" y2="86.47"/>
<line x1="363.7" y1="92.71" x2="400" y2="92.71"/>
<line x1="363.7" y1="98.95" x2="392.6" y2="98.95"/>
<line x1="363.7" y1="105.19" x2="395.9" y2="105.19"/>
<line x1="363.7" y1="111.43" x2="419.8" y2="111.43"/>
<line x1="363.7" y1="117.67" x2="402.5" y2="117.67"/>
<line x1="363.7" y1="123.91" x2="401.7" y2="123.91"/>
<line x1="363.7" y1="130.15" x2="437.4" y2="130.15"/>
<line x1="363.7" y1="136.39" x2="411.1" y2="136.39"/>
<line x1="363.7" y1="142.63" x2="417" y2="142.63"/>
<line x1="363.7" y1="148.87" x2="416.5" y2="148.87"/>
<line x1="363.7" y1="155.11" x2="414.4" y2="155.11"/>
<line x1="363.7" y1="161.35" x2="390.1" y2="161.35"/>
<line x1="363.7" y1="167.59" x2="409.9" y2="167.59"/>
<line x1="363.7" y1="173.83" x2="407.4" y2="173.83"/>
<line x1="363.7" y1="180.07" x2="389.3" y2="180.07"/>
<line x1="363.7" y1="186.31" x2="402.5" y2="186.31"/>
<line x1="363.7" y1="192.55" x2="397.6" y2="192.55"/>
<line x1="363.7" y1="198.79" x2="400.5" y2="198.79"/>
<line x1="363.7" y1="205.03" x2="397.6" y2="205.03"/>
<line x1="363.7" y1="211.27" x2="403.8" y2="211.27"/>
<line x1="363.7" y1="217.51" x2="387.3" y2="217.51"/>
<line x1="363.7" y1="223.75" x2="390.6" y2="223.75"/>
<line x1="363.7" y1="229.99" x2="399.5" y2="229.99"/>
<line x1="363.7" y1="236.23" x2="409.1" y2="236.23"/>
<line x1="363.7" y1="242.47" x2="415.7" y2="242.47"/>
<line x1="363.7" y1="248.71" x2="396.7" y2="248.71"/>
<line x1="363.7" y1="254.95" x2="407.8" y2="254.95"/>
<line x1="363.7" y1="261.19" x2="405" y2="261.19"/>
<line x1="363.7" y1="267.43" x2="409.9" y2="267.43"/>
<line x1="363.7" y1="273.67" x2="404.5" y2="273.67"/>
<line x1="363.7" y1="279.91" x2="407.8" y2="279.91"/>
<line x1="363.7" y1="286.15" x2="414.9" y2="286.15"/>
<line x1="363.7" y1="292.39" x2="418.7" y2="292.39"/>
<line x1="363.7" y1="298.63" x2="412.4" y2="298.63"/>
<line x1="363.7" y1="304.87" x2="423.6" y2="304.87"/>
<line x1="363.7" y1="311.11" x2="387.7" y2="311.11"/>
<line x1="363.7" y1="317.35" x2="414.9" y2="317.35"/>
<line x1="363.7" y1="323.59" x2="426.6" y2="323.59"/>
<line x1="363.7" y1="329.83" x2="427" y2="329.83"/>
<line x1="363.7" y1="336.07" x2="396.5" y2="336.07"/>
</g>
<rect x="367.9" y="3.35" width="5.3" height="4" rx="0.6" fill="#f00a1e"/>
<rect x="377.4" y="3.35" width="1.2" height="4" rx="0.6" fill="#8c89b3"/>
<rect x="386.3" y="3.35" width="2.2" height="4" rx="0.6" fill="#fdc80c"/>
<rect x="388.5" y="3.35" width="3.3" height="4" rx="0.6" fill="#62ad35"/>
<rect x="380.7" y="9.59" width="2" height="4" rx="0.6" fill="#fdc80c"/>
<rect x="382.7" y="9.59" width="3.3" height="4" rx="0.6" fill="#62ad35"/>
<rect x="380.7" y="15.83" width="2" height="4" rx="0.6" fill="#fdc80c"/>
<rect x="382.7" y="15.83" width="3.3" height="4" rx="0.6" fill="#62ad35"/>
<rect x="374.2" y="22.07" width="1.9" height="4" rx="0.6" fill="#fdc80c"/>
<rect x="376.1" y="22.07" width="3.7" height="4" rx="0.6" fill="#62ad35"/>
<rect x="365.4" y="28.31" width="1.8" height="4" rx="0.6" fill="#a9d77f"/>
<rect x="368.2" y="28.31" width="5.8" height="4" rx="0.6" fill="#f00a1e"/>
<rect x="374.2" y="28.31" width="5.7" height="4" rx="0.6" fill="#0e7f77"/>
<rect x="386.3" y="28.31" width="2.3" height="4" rx="0.6" fill="#fdc80c"/>
<rect x="388.6" y="28.31" width="3.3" height="4" rx="0.6" fill="#62ad35"/>
<rect x="365.4" y="34.55" width="1.8" height="4" rx="0.6" fill="#a9d77f"/>
<rect x="368.6" y="34.55" width="5.6" height="4" rx="0.6" fill="#f00a1e"/>
<rect x="374.5" y="34.55" width="5.4" height="4" rx="0.6" fill="#0e7f77"/>
<rect x="387.7" y="34.55" width="2.3" height="4" rx="0.6" fill="#fdc80c"/>
<rect x="390" y="34.55" width="3" height="4" rx="0.6" fill="#62ad35"/>
<rect x="365.4" y="40.79" width="1.8" height="4" rx="0.6" fill="#a9d77f"/>
<rect x="368.1" y="40.79" width="5.9" height="4" rx="0.6" fill="#f00a1e"/>
<rect x="374.4" y="40.79" width="5.5" height="4" rx="0.6" fill="#0e7f77"/>
<rect x="387.2" y="40.79" width="2.4" height="4" rx="0.6" fill="#fdc80c"/>
<rect x="389.6" y="40.79" width="3.3" height="4" rx="0.6" fill="#62ad35"/>
<rect x="365.4" y="47.03" width="1.8" height="4" rx="0.6" fill="#a9d77f"/>
<rect x="368.6" y="47.03" width="5.4" height="4" rx="0.6" fill="#f00a1e"/>
<rect x="374.4" y="47.03" width="5.5" height="4" rx="0.6" fill="#0e7f77"/>
<rect x="387.9" y="47.03" width="2.1" height="4" rx="0.6" fill="#fdc80c"/>
<rect x="390" y="47.03" width="3" height="4" rx="0.6" fill="#62ad35"/>
<rect x="364.3" y="53.27" width="1.8" height="4" rx="0.6" fill="#a9d77f"/>
<rect x="367.2" y="53.27" width="5.8" height="4" rx="0.6" fill="#f00a1e"/>
<rect x="373.5" y="53.27" width="5.4" height="4" rx="0.6" fill="#0e7f77"/>
<rect x="381.4" y="53.27" width="2.1" height="4" rx="0.6" fill="#fdc80c"/>
<rect x="385.2" y="53.27" width="3.8" height="4" rx="0.6" fill="#62ad35"/>
<rect x="365.4" y="59.51" width="1.7" height="4" rx="0.6" fill="#a9d77f"/>
<rect x="367.9" y="59.51" width="5.8" height="4" rx="0.6" fill="#f00a1e"/>
<rect x="374.5" y="59.51" width="5.5" height="4" rx="0.6" fill="#0e7f77"/>
<rect x="384.4" y="59.51" width="1.9" height="4" rx="0.6" fill="#fdc80c"/>
<rect x="386.8" y="59.51" width="3.3" height="4" rx="0.6" fill="#62ad35"/>
<rect x="367.1" y="65.75" width="2.1" height="4" rx="0.6" fill="#a9d77f"/>
<rect x="369.9" y="65.75" width="5.4" height="4" rx="0.6" fill="#f00a1e"/>
<rect x="376.1" y="65.75" width="5.5" height="4" rx="0.6" fill="#0e7f77"/>
<rect x="389" y="65.75" width="2" height="4" rx="0.6" fill="#fdc80c"/>
<rect x="391" y="65.75" width="3.6" height="4" rx="0.6" fill="#62ad35"/>
<rect x="369.1" y="71.99" width="2.7" height="4" rx="0.6" fill="#fdc80c"/>
<rect x="372" y="71.99" width="3" height="4" rx="0.6" fill="#62ad35"/>
<rect x="379.8" y="71.99" width="1.6" height="4" rx="0.6" fill="#f8a01e"/>
<rect x="381.4" y="71.99" width="2.4" height="4" rx="0.6" fill="#ee4d80"/>
<rect x="383.8" y="71.99" width="1.4" height="4" rx="0.6" fill="#8c89b3"/>
<rect x="369.1" y="78.23" width="2.7" height="4" rx="0.6" fill="#fdc80c"/>
<rect x="372" y="78.23" width="3" height="4" rx="0.6" fill="#62ad35"/>
<rect x="379.8" y="78.23" width="1.6" height="4" rx="0.6" fill="#f8a01e"/>
<rect x="381.4" y="78.23" width="2.4" height="4" rx="0.6" fill="#ee4d80"/>
<rect x="383.8" y="78.23" width="1.4" height="4" rx="0.6" fill="#8c89b3"/>
<rect x="367.4" y="84.47" width="2.4" height="4" rx="0.6" fill="#fdc80c"/>
<rect x="370.2" y="84.47" width="2.9" height="4" rx="0.6" fill="#62ad35"/>
<rect x="378.2" y="84.47" width="2.6" height="4" rx="0.6" fill="#ee4d80"/>
<rect x="380.8" y="84.47" width="1.3" height="4" rx="0.6" fill="#8c89b3"/>
<rect x="368.6" y="90.71" width="2.3" height="4" rx="0.6" fill="#fdc80c"/>
<rect x="371.2" y="90.71" width="3" height="4" rx="0.6" fill="#62ad35"/>
<rect x="379" y="90.71" width="1.5" height="4" rx="0.6" fill="#f8a01e"/>
<rect x="380.5" y="90.71" width="2.2" height="4" rx="0.6" fill="#ee4d80"/>
<rect x="367.1" y="96.95" width="2.1" height="4" rx="0.6" fill="#fdc80c"/>
<rect x="369.5" y="96.95" width="3.7" height="4" rx="0.6" fill="#62ad35"/>
<rect x="379.1" y="96.95" width="2.3" height="4" rx="0.6" fill="#ee4d80"/>
<rect x="381.4" y="96.95" width="1.3" height="4" rx="0.6" fill="#8c89b3"/>
<rect x="367.1" y="103.19" width="2.1" height="4" rx="0.6" fill="#fdc80c"/>
<rect x="369.5" y="103.19" width="3.7" height="4" rx="0.6" fill="#62ad35"/>
<rect x="379.1" y="103.19" width="2.3" height="4" rx="0.6" fill="#ee4d80"/>
<rect x="381.4" y="103.19" width="1.3" height="4" rx="0.6" fill="#8c89b3"/>
<rect x="378.1" y="109.43" width="2.2" height="4" rx="0.6" fill="#fdc80c"/>
<rect x="380.7" y="109.43" width="3.3" height="4" rx="0.6" fill="#62ad35"/>
<rect x="389" y="109.43" width="1.1" height="4" rx="0.6" fill="#f8a01e"/>
<rect x="392.4" y="109.43" width="1.4" height="4" rx="0.6" fill="#8c89b3"/>
<rect x="366.2" y="115.67" width="2" height="4" rx="0.6" fill="#fdc80c"/>
<rect x="368.7" y="115.67" width="3.3" height="4" rx="0.6" fill="#62ad35"/>
<rect x="381.1" y="115.67" width="1.9" height="4" rx="0.6" fill="#ee4d80"/>
<rect x="383" y="115.67" width="1.4" height="4" rx="0.6" fill="#8c89b3"/>
<rect x="369.2" y="121.91" width="2" height="4" rx="0.6" fill="#fdc80c"/>
<rect x="371.5" y="121.91" width="3.3" height="4" rx="0.6" fill="#62ad35"/>
<rect x="377.8" y="121.91" width="1.6" height="4" rx="0.6" fill="#f8a01e"/>
<rect x="379.4" y="121.91" width="2.5" height="4" rx="0.6" fill="#ee4d80"/>
<rect x="381.9" y="121.91" width="1.6" height="4" rx="0.6" fill="#8c89b3"/>
<rect x="404.5" y="128.15" width="2.1" height="4" rx="0.6" fill="#fdc80c"/>
<rect x="407.1" y="128.15" width="3.3" height="4" rx="0.6" fill="#62ad35"/>
<rect x="413.7" y="128.15" width="1.7" height="4" rx="0.6" fill="#f8a01e"/>
<rect x="415.4" y="128.15" width="2.3" height="4" rx="0.6" fill="#ee4d80"/>
<rect x="417.7" y="128.15" width="1.3" height="4" rx="0.6" fill="#8c89b3"/>
<rect x="371.1" y="134.39" width="5.9" height="4" rx="0.6" fill="#cd5427"/>
<rect x="383.1" y="134.39" width="4.8" height="4" rx="0.6" fill="#5b3c98"/>
<rect x="392.3" y="134.39" width="2.4" height="4" rx="0.6" fill="#fdc80c"/>
<rect x="395" y="134.39" width="3.4" height="4" rx="0.6" fill="#62ad35"/>
<rect x="401.1" y="134.39" width="1.4" height="4" rx="0.6" fill="#f8a01e"/>
<rect x="402.5" y="134.39" width="3.1" height="4" rx="0.6" fill="#ee4d80"/>
<rect x="405.6" y="134.39" width="1.4" height="4" rx="0.6" fill="#8c89b3"/>
<rect x="371.1" y="140.63" width="5.9" height="4" rx="0.6" fill="#cd5427"/>
<rect x="383.3" y="140.63" width="4.6" height="4" rx="0.6" fill="#5b3c98"/>
<rect x="391.8" y="140.63" width="2.5" height="4" rx="0.6" fill="#fdc80c"/>
<rect x="394.6" y="140.63" width="3.6" height="4" rx="0.6" fill="#62ad35"/>
<rect x="400.9" y="140.63" width="1.6" height="4" rx="0.6" fill="#f8a01e"/>
<rect x="402.5" y="140.63" width="3" height="4" rx="0.6" fill="#ee4d80"/>
<rect x="405.5" y="140.63" width="1.3" height="4" rx="0.6" fill="#8c89b3"/>
<rect x="369.5" y="146.87" width="5.7" height="4" rx="0.6" fill="#cd5427"/>
<rect x="381.8" y="146.87" width="4.6" height="4" rx="0.6" fill="#5b3c98"/>
<rect x="392" y="146.87" width="2.5" height="4" rx="0.6" fill="#fdc80c"/>
<rect x="394.7" y="146.87" width="3.5" height="4" rx="0.6" fill="#62ad35"/>
<rect x="400.9" y="146.87" width="1.6" height="4" rx="0.6" fill="#f8a01e"/>
<rect x="402.5" y="146.87" width="3" height="4" rx="0.6" fill="#ee4d80"/>
<rect x="405.5" y="146.87" width="1.3" height="4" rx="0.6" fill="#8c89b3"/>
<rect x="371.1" y="153.11" width="5.9" height="4" rx="0.6" fill="#cd5427"/>
<rect x="381.8" y="153.11" width="4.6" height="4" rx="0.6" fill="#5b3c98"/>
<rect x="392" y="153.11" width="2.5" height="4" rx="0.6" fill="#fdc80c"/>
<rect x="394.7" y="153.11" width="3.5" height="4" rx="0.6" fill="#62ad35"/>
<rect x="400.9" y="153.11" width="1.6" height="4" rx="0.6" fill="#f8a01e"/>
<rect x="402.5" y="153.11" width="3" height="4" rx="0.6" fill="#ee4d80"/>
<rect x="405.5" y="153.11" width="1.3" height="4" rx="0.6" fill="#8c89b3"/>
<rect x="365.4" y="159.35" width="2" height="4" rx="0.6" fill="#fdc80c"/>
<rect x="367.9" y="159.35" width="3" height="4" rx="0.6" fill="#62ad35"/>
<rect x="374.2" y="159.35" width="1.6" height="4" rx="0.6" fill="#f8a01e"/>
<rect x="375.8" y="159.35" width="2.3" height="4" rx="0.6" fill="#ee4d80"/>
<rect x="378.1" y="159.35" width="1.3" height="4" rx="0.6" fill="#8c89b3"/>
<rect x="389.3" y="165.59" width="2.5" height="4" rx="0.6" fill="#fdc80c"/>
<rect x="392.3" y="165.59" width="2.8" height="4" rx="0.6" fill="#62ad35"/>
<rect x="398.4" y="165.59" width="1.6" height="4" rx="0.6" fill="#f8a01e"/>
<rect x="400" y="165.59" width="2.5" height="4" rx="0.6" fill="#ee4d80"/>
<rect x="402.5" y="165.59" width="1.3" height="4" rx="0.6" fill="#8c89b3"/>
<rect x="390.6" y="171.83" width="2" height="4" rx="0.6" fill="#fdc80c"/>
<rect x="393" y="171.83" width="3.2" height="4" rx="0.6" fill="#62ad35"/>
<rect x="399.2" y="171.83" width="1.7" height="4" rx="0.6" fill="#f8a01e"/>
<rect x="400.9" y="171.83" width="2.4" height="4" rx="0.6" fill="#ee4d80"/>
<rect x="403.3" y="171.83" width="1.6" height="4" rx="0.6" fill="#8c89b3"/>
<rect x="365.9" y="178.07" width="2.3" height="4" rx="0.6" fill="#fdc80c"/>
<rect x="368.7" y="178.07" width="3.3" height="4" rx="0.6" fill="#62ad35"/>
<rect x="372" y="184.31" width="2.2" height="4" rx="0.6" fill="#fdc80c"/>
<rect x="374.5" y="184.31" width="3.3" height="4" rx="0.6" fill="#62ad35"/>
<rect x="365.9" y="190.55" width="2" height="4" rx="0.6" fill="#fdc80c"/>
<rect x="369.9" y="190.55" width="3.3" height="4" rx="0.6" fill="#62ad35"/>
<rect x="370.4" y="196.79" width="2.1" height="4" rx="0.6" fill="#fdc80c"/>
<rect x="372.8" y="196.79" width="3.3" height="4" rx="0.6" fill="#62ad35"/>
<rect x="370.4" y="203.03" width="2.1" height="4" rx="0.6" fill="#fdc80c"/>
<rect x="372.8" y="203.03" width="3.3" height="4" rx="0.6" fill="#62ad35"/>
<rect x="372.5" y="209.27" width="2" height="4" rx="0.6" fill="#fdc80c"/>
<rect x="375" y="209.27" width="3.1" height="4" rx="0.6" fill="#62ad35"/>
<rect x="364.3" y="215.51" width="1.9" height="4" rx="0.6" fill="#fdc80c"/>
<rect x="366.6" y="215.51" width="3.3" height="4" rx="0.6" fill="#62ad35"/>
<rect x="368.2" y="221.75" width="2.2" height="4" rx="0.6" fill="#fdc80c"/>
<rect x="370.9" y="221.75" width="3.3" height="4" rx="0.6" fill="#62ad35"/>
<rect x="378.6" y="227.99" width="2.1" height="4" rx="0.6" fill="#fdc80c"/>
<rect x="381.1" y="227.99" width="3.3" height="4" rx="0.6" fill="#62ad35"/>
<rect x="389.3" y="234.23" width="2" height="4" rx="0.6" fill="#fdc80c"/>
<rect x="391.8" y="234.23" width="3.3" height="4" rx="0.6" fill="#62ad35"/>
<rect x="393.1" y="240.47" width="2.2" height="4" rx="0.6" fill="#fdc80c"/>
<rect x="395.6" y="240.47" width="3.3" height="4" rx="0.6" fill="#62ad35"/>
<rect x="383" y="246.71" width="2.2" height="4" rx="0.6" fill="#fdc80c"/>
<rect x="385.7" y="246.71" width="3.3" height="4" rx="0.6" fill="#62ad35"/>
<rect x="386.5" y="252.95" width="2.2" height="4" rx="0.6" fill="#fdc80c"/>
<rect x="389.3" y="252.95" width="3" height="4" rx="0.6" fill="#62ad35"/>
<rect x="384.7" y="259.19" width="2.1" height="4" rx="0.6" fill="#fdc80c"/>
<rect x="387.3" y="259.19" width="3.3" height="4" rx="0.6" fill="#62ad35"/>
<rect x="368.7" y="265.43" width="3.8" height="4" rx="0.6" fill="#7b8469"/>
<rect x="393.8" y="265.43" width="2" height="4" rx="0.6" fill="#fdc80c"/>
<rect x="396.2" y="265.43" width="3.3" height="4" rx="0.6" fill="#62ad35"/>
<rect x="368.7" y="271.67" width="3.8" height="4" rx="0.6" fill="#7b8469"/>
<rect x="390.1" y="271.67" width="2" height="4" rx="0.6" fill="#fdc80c"/>
<rect x="392.6" y="271.67" width="3.3" height="4" rx="0.6" fill="#62ad35"/>
<rect x="365.9" y="277.91" width="3.3" height="4" rx="0.6" fill="#7b8469"/>
<rect x="387.3" y="277.91" width="2" height="4" rx="0.6" fill="#fdc80c"/>
<rect x="390.1" y="277.91" width="3" height="4" rx="0.6" fill="#62ad35"/>
<rect x="368.2" y="284.15" width="3.8" height="4" rx="0.6" fill="#7b8469"/>
<rect x="391.3" y="284.15" width="2.1" height="4" rx="0.6" fill="#fdc80c"/>
<rect x="393.9" y="284.15" width="3.3" height="4" rx="0.6" fill="#62ad35"/>
<rect x="367.6" y="290.39" width="5.6" height="4" rx="0.6" fill="#0e7f77"/>
<rect x="381.6" y="290.39" width="2.3" height="4" rx="0.6" fill="#fdc80c"/>
<rect x="384" y="290.39" width="3.3" height="4" rx="0.6" fill="#62ad35"/>
<rect x="387.3" y="290.39" width="4.8" height="4" rx="0.6" fill="#1765c9"/>
<rect x="396.7" y="290.39" width="3.8" height="4" rx="0.6" fill="#f08cab"/>
<rect x="402.2" y="290.39" width="5.6" height="4" rx="0.6" fill="#4db889"/>
<rect x="408.3" y="290.39" width="4.4" height="4" rx="0.6" fill="#fbb98a"/>
<rect x="364.3" y="296.63" width="5.6" height="4" rx="0.6" fill="#0e7f77"/>
<rect x="377.4" y="296.63" width="2.4" height="4" rx="0.6" fill="#fdc80c"/>
<rect x="379.9" y="296.63" width="3.1" height="4" rx="0.6" fill="#62ad35"/>
<rect x="383" y="296.63" width="4.7" height="4" rx="0.6" fill="#1765c9"/>
<rect x="392.3" y="296.63" width="3.9" height="4" rx="0.6" fill="#f08cab"/>
<rect x="397.9" y="296.63" width="5.4" height="4" rx="0.6" fill="#4db889"/>
<rect x="403.8" y="296.63" width="4.5" height="4" rx="0.6" fill="#fbb98a"/>
<rect x="365.4" y="302.87" width="5.8" height="4" rx="0.6" fill="#f00a1e"/>
<rect x="371.5" y="302.87" width="5.5" height="4" rx="0.6" fill="#0e7f77"/>
<rect x="382.7" y="302.87" width="2.2" height="4" rx="0.6" fill="#fdc80c"/>
<rect x="385.2" y="302.87" width="3.3" height="4" rx="0.6" fill="#62ad35"/>
<rect x="388.5" y="302.87" width="4.6" height="4" rx="0.6" fill="#1765c9"/>
<rect x="397.9" y="302.87" width="3.8" height="4" rx="0.6" fill="#f08cab"/>
<rect x="408.8" y="302.87" width="5.2" height="4" rx="0.6" fill="#4db889"/>
<rect x="414.4" y="302.87" width="4.6" height="4" rx="0.6" fill="#fbb98a"/>
<rect x="374.2" y="309.11" width="2.3" height="4" rx="0.6" fill="#fdc80c"/>
<rect x="377" y="309.11" width="3" height="4" rx="0.6" fill="#62ad35"/>
<rect x="382.7" y="315.35" width="2.2" height="4" rx="0.6" fill="#fdc80c"/>
<rect x="385.2" y="315.35" width="3.3" height="4" rx="0.6" fill="#62ad35"/>
<rect x="364.9" y="321.59" width="1.7" height="4" rx="0.6" fill="#a9d77f"/>
<rect x="367.7" y="321.59" width="5.7" height="4" rx="0.6" fill="#f00a1e"/>
<rect x="373.5" y="321.59" width="5.5" height="4" rx="0.6" fill="#0e7f77"/>
<rect x="393.3" y="321.59" width="3.8" height="4" rx="0.6" fill="#f08cab"/>
<rect x="398.9" y="321.59" width="2" height="4" rx="0.6" fill="#fdc80c"/>
<rect x="401.1" y="321.59" width="3.3" height="4" rx="0.6" fill="#62ad35"/>
<rect x="364.9" y="327.83" width="1.7" height="4" rx="0.6" fill="#a9d77f"/>
<rect x="367.7" y="327.83" width="5.7" height="4" rx="0.6" fill="#f00a1e"/>
<rect x="373.5" y="327.83" width="5.5" height="4" rx="0.6" fill="#0e7f77"/>
<rect x="399.7" y="327.83" width="2.2" height="4" rx="0.6" fill="#fdc80c"/>
<rect x="402.2" y="327.83" width="3.3" height="4" rx="0.6" fill="#62ad35"/>
<rect x="389.6" y="334.07" width="2" height="4" rx="0.6" fill="#fdc80c"/>
<rect x="392" y="334.07" width="3.3" height="4" rx="0.6" fill="#62ad35"/>
<line x1="363.5" y1="342.4" x2="455.1" y2="342.4" stroke="#777" stroke-width="0.6"/>
<line x1="363.5" y1="341.6" x2="363.5" y2="342.4" stroke="#777" stroke-width="0.5"/>
<line x1="374.95" y1="341.6" x2="374.95" y2="342.4" stroke="#777" stroke-width="0.5"/>
<line x1="386.4" y1="341.6" x2="386.4" y2="342.4" stroke="#777" stroke-width="0.5"/>
<line x1="397.85" y1="341.6" x2="397.85" y2="342.4" stroke="#777" stroke-width="0.5"/>
<line x1="409.3" y1="341.6" x2="409.3" y2="342.4" stroke="#777" stroke-width="0.5"/>
<line x1="420.75" y1="341.6" x2="420.75" y2="342.4" stroke="#777" stroke-width="0.5"/>
<line x1="432.2" y1="341.6" x2="432.2" y2="342.4" stroke="#777" stroke-width="0.5"/>
<line x1="443.65" y1="341.6" x2="443.65" y2="342.4" stroke="#777" stroke-width="0.5"/>
<line x1="455.1" y1="341.6" x2="455.1" y2="342.4" stroke="#777" stroke-width="0.5"/>
<g class="s" font-size="5.1" fill="#333" text-anchor="middle">
<text x="364" y="349.8">0</text>
<text x="375.45" y="349.8">100</text>
<text x="386.9" y="349.8">200</text>
<text x="398.35" y="349.8">300</text>
<text x="409.8" y="349.8">400</text>
<text x="421.25" y="349.8">500</text>
<text x="432.7" y="349.8">600</text>
<text x="444.15" y="349.8">700</text>
<text x="455.6" y="349.8">800</text>
</g>
<text class="s" x="359.3" y="343.8" font-size="5" fill="#222">5'</text>
<text class="s" x="455" y="343.6" font-size="5" fill="#222">3'</text>
<rect x="450.1" y="5.1" width="13.7" height="5.3" fill="#f00a1e"/>
<text class="s" x="465.6" y="8.3" font-size="5.15" fill="#4a4a4a">Motif 5</text>
<rect x="450.1" y="12.35" width="13.7" height="5.3" fill="#8c89b3"/>
<text class="s" x="465.6" y="15.55" font-size="5.15" fill="#4a4a4a">Motif 6</text>
<rect x="450.1" y="19.6" width="13.7" height="5.3" fill="#fdc80c"/>
<text class="s" x="465.6" y="22.8" font-size="5.15" fill="#4a4a4a">Motif 2</text>
<rect x="450.1" y="26.85" width="13.7" height="5.3" fill="#62ad35"/>
<text class="s" x="465.6" y="30.05" font-size="5.15" fill="#4a4a4a">Motif 1</text>
<rect x="450.1" y="34.1" width="13.7" height="5.3" fill="#a9d77f"/>
<text class="s" x="465.6" y="37.3" font-size="5.15" fill="#4a4a4a">Motif 7</text>
<rect x="450.1" y="41.35" width="13.7" height="5.3" fill="#0e7f77"/>
<text class="s" x="465.6" y="44.55" font-size="5.15" fill="#4a4a4a">Motif 4</text>
<rect x="450.1" y="48.6" width="13.7" height="5.3" fill="#f8a01e"/>
<text class="s" x="465.6" y="51.8" font-size="5.15" fill="#4a4a4a">Motif 8</text>
<rect x="450.1" y="55.85" width="13.7" height="5.3" fill="#ee4d80"/>
<text class="s" x="465.6" y="59.05" font-size="5.15" fill="#4a4a4a">Motif 3</text>
<rect x="450.1" y="63.1" width="13.7" height="5.3" fill="#cd5427"/>
<text class="s" x="465.6" y="66.3" font-size="5.15" fill="#4a4a4a">Motif 12</text>
<rect x="450.1" y="70.35" width="13.7" height="5.3" fill="#5b3c98"/>
<text class="s" x="465.6" y="73.55" font-size="5.15" fill="#4a4a4a">Motif 9</text>
<rect x="450.1" y="77.6" width="13.7" height="5.3" fill="#7b8469"/>
<text class="s" x="465.6" y="80.8" font-size="5.15" fill="#4a4a4a">Motif 11</text>
<rect x="450.1" y="84.85" width="13.7" height="5.3" fill="#1765c9"/>
<text class="s" x="465.6" y="88.05" font-size="5.15" fill="#4a4a4a">Motif 15</text>
<rect x="450.1" y="92.1" width="13.7" height="5.3" fill="#f08cab"/>
<text class="s" x="465.6" y="95.3" font-size="5.15" fill="#4a4a4a">Motif 14</text>
<rect x="450.1" y="99.35" width="13.7" height="5.3" fill="#4db889"/>
<text class="s" x="465.6" y="102.55" font-size="5.15" fill="#4a4a4a">Motif 13</text>
<rect x="450.1" y="106.6" width="13.7" height="5.3" fill="#fbb98a"/>
<text class="s" x="465.6" y="109.8" font-size="5.15" fill="#4a4a4a">Motif 10</text>
<text class="t" x="449.6" y="127.4" font-size="7.5" fill="#111" stroke="#111" stroke-width="0.18">Motif 1, 2 :Myb_DNA-binding</text>
<text class="t" x="449.6" y="140.6" font-size="7.5" fill="#111" stroke="#111" stroke-width="0.18">Motif&#160; 3 :Myb_CC_LHEQLE</text>
<text class="t" x="449.6" y="153.8" font-size="7.5" fill="#111" stroke="#111" stroke-width="0.18">Motif 4, 5 :Response_reg</text>
<text class="t" x="449.6" y="167" font-size="7.5" fill="#111" stroke="#111" stroke-width="0.18">Other Motifs :Unknown</text>
</svg></body></html>
